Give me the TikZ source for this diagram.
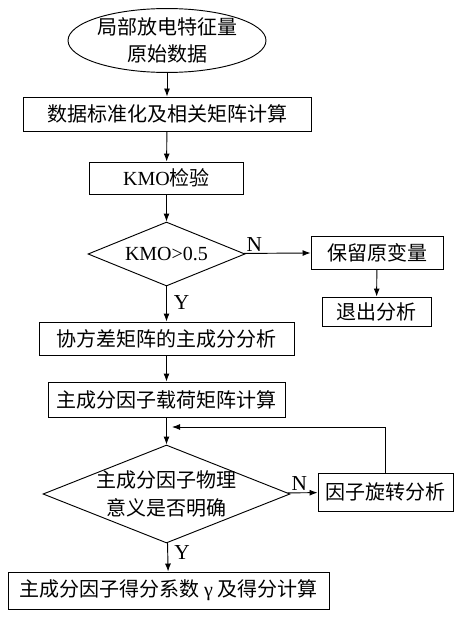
\documentclass[tikz,border=0pt]{standalone}
\usepackage{fontspec}
\setmainfont{Liberation Serif}
\newfontfamily\cjkfont{Noto Sans CJK SC}
\usetikzlibrary{shapes.geometric,arrows.meta}

\tikzset{
	procbox/.style={draw,line width=0.7pt,inner sep=0pt,font=\cjkfont\fontsize{15}{20}\selectfont},
	decbox/.style={draw,diamond,line width=0.7pt,inner sep=0pt},
	dectext/.style={inner sep=0pt,align=center,font=\cjkfont\fontsize{15}{21}\selectfont},
	flow/.style={line width=0.7pt,-{Latex[length=6pt,width=4.5pt]}},
	yn/.style={inner sep=0.75pt,font=\fontsize{16}{18}\selectfont}
}

\begin{document}
\begin{tikzpicture}[x=0.75pt,y=0.75pt,yscale=-1,xscale=1]
	\useasboundingbox (0,0) rectangle (474,635);
	
	%Shape: Ellipse [id:start]
	\node [draw,ellipse,line width=0.7pt,inner sep=0pt,minimum width=145.5pt,minimum height=40.5pt,align=center,font=\cjkfont\fontsize{15}{20}\selectfont] (src) at (167,40.5) {局部放电特征量\\原始数据};
	%Shape: Rectangle [id:calc]
	\node [procbox,minimum width=216pt,minimum height=25.5pt] (stdcalc) at (167,114) {数据标准化及相关矩阵计算};
	%Shape: Rectangle [id:kmo]
	\node [procbox,minimum width=115.5pt,minimum height=24pt] (kmotest) at (166.5,178) {\textrm{KMO}检验};
	%Shape: Diamond [id:kmo05]
	\node [decbox,minimum width=117.75pt,minimum height=48pt] (kmodec) at (166.5,254) {};
	% Text Node
	\node [dectext] (kmodectxt) at (kmodec) {\textrm{KMO>0.5}};
	%Shape: Rectangle [id:keep]
	\node [procbox,minimum width=99pt,minimum height=24.75pt] (keepvar) at (377,252.5) {保留原变量};
	%Shape: Rectangle [id:quit]
	\node [procbox,minimum width=81.75pt,minimum height=21.75pt] (quitana) at (376.5,311.5) {退出分析};
	%Shape: Rectangle [id:pca]
	\node [procbox,minimum width=191.25pt,minimum height=24.75pt] (covpca) at (166.5,338.5) {协方差矩阵的主成分分析};
	%Shape: Rectangle [id:load]
	\node [procbox,minimum width=177.75pt,minimum height=26.25pt] (loadcalc) at (166.5,399.5) {主成分因子载荷矩阵计算};
	%Shape: Diamond [id:phys]
	\node [decbox,minimum width=185.25pt,minimum height=73.5pt] (physdec) at (166.5,494) {};
	% Text Node
	\node [dectext] (physdectxt) at (physdec) {主成分因子物理\\意义是否明确};
	%Shape: Rectangle [id:rot]
	\node [procbox,minimum width=101.25pt,minimum height=28.5pt] (rotana) at (385.5,492) {因子旋转分析};
	%Shape: Rectangle [id:score]
	\node [procbox,minimum width=240.75pt,minimum height=27.75pt] (scorecalc) at (168.5,590.5) {主成分因子得分系数 \textrm{γ} 及得分计算};
	
	%Straight Lines [id:back]
	\coordinate (backin) at (172,427);
	
	\draw [flow] (src) -- (stdcalc);
	\draw [flow] (stdcalc) -- (kmotest);
	\draw [flow] (kmotest) -- (kmodec);
	\draw [flow] (kmodec) -- (keepvar);
	\draw [flow] (keepvar) -- (quitana);
	\draw [flow] (kmodec) -- (covpca);
	\draw [flow] (covpca) -- (loadcalc);
	\draw [flow] (loadcalc) -- (physdec);
	\draw [flow] (rotana.north) |- (backin);
	\draw [flow] (physdec) -- (rotana);
	\draw [flow] (physdec) -- (scorecalc);
	
	% Text Node
	\node [yn,anchor=south west] (kmon) at ([yshift=-1pt]kmodec.east) {N};
	% Text Node
	\node [yn,anchor=north west] (kmoy) at ([xshift=4.5pt,yshift=6pt]kmodec.south) {Y};
	% Text Node
	\node [yn,anchor=south west] (physn) at ([xshift=0pt,yshift=-2pt]physdec.east) {N};
	% Text Node
	\node [yn,anchor=north west] (physy) at ([xshift=5pt,yshift=0.5pt]physdec.south) {Y};
	
\end{tikzpicture}
\end{document}
